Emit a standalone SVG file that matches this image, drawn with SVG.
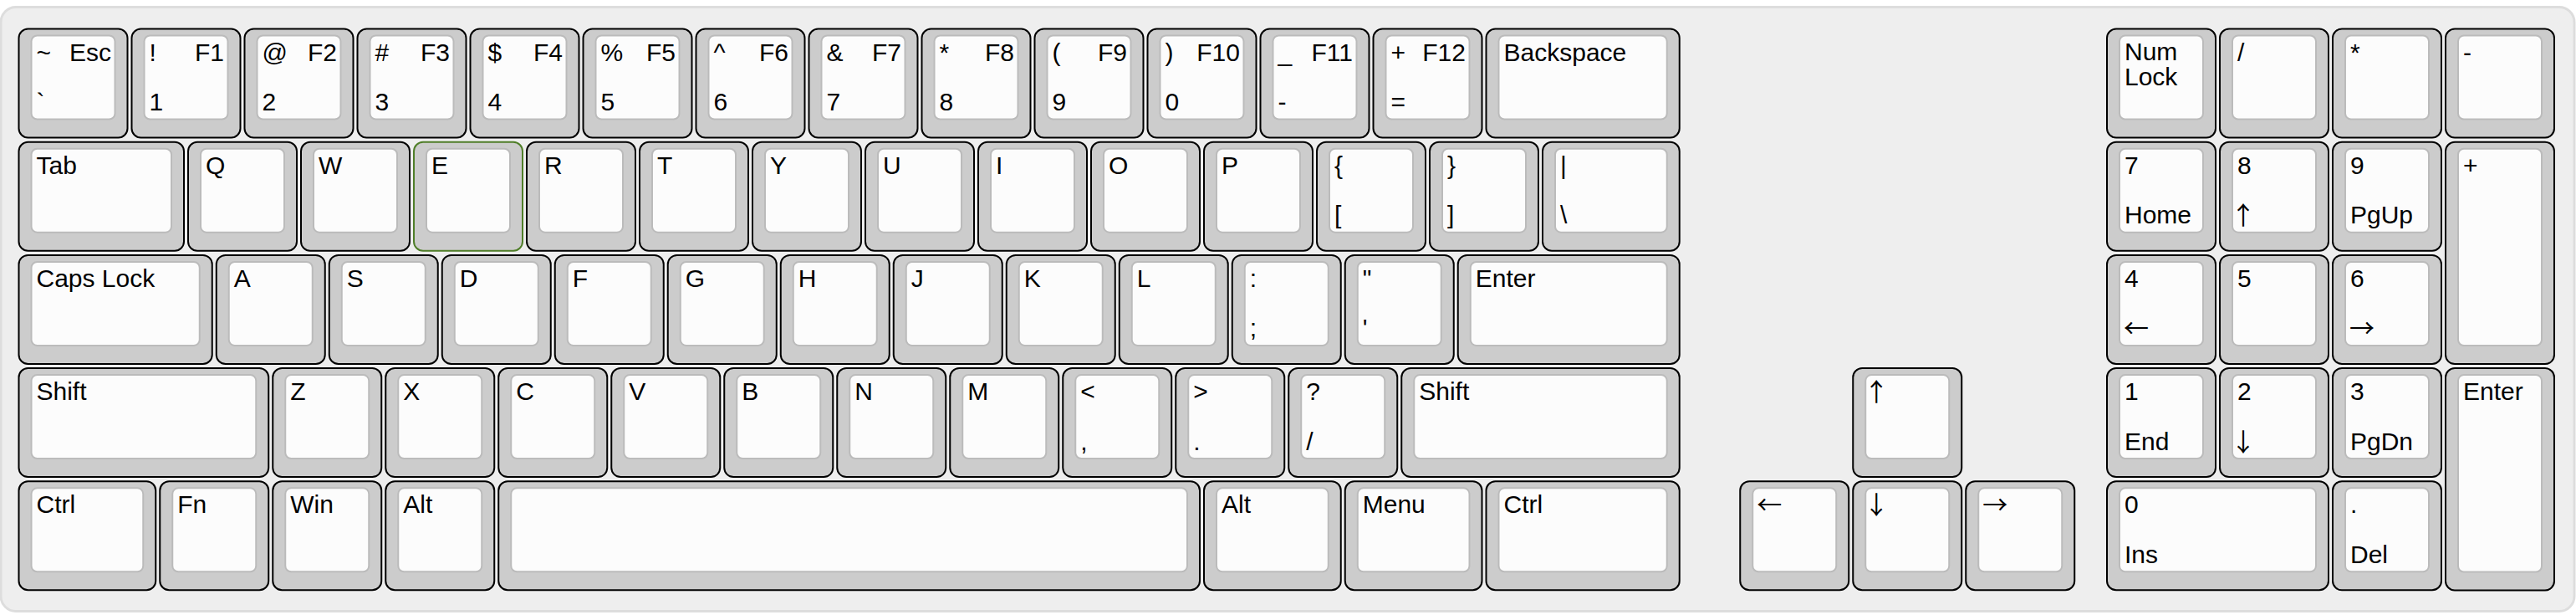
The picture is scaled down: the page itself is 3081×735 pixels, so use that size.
<svg xmlns="http://www.w3.org/2000/svg" width="3081" height="735" viewBox="0 0 3081 735">
<defs>
<style>
.o{fill:#cccccc;stroke:#000000;stroke-width:2}
.sel{stroke:#4f7e28}
.i{fill:#fcfcfc;stroke:#bbbbbb;stroke-width:2}
.t{font-family:"Liberation Sans",Arial,Helvetica,sans-serif;font-size:30px;fill:#000000}
.a{font-family:"Noto Sans CJK SC","DejaVu Sans",sans-serif;font-size:30px;fill:#000000}
.e{text-anchor:end}
</style>
</defs>
<rect x="1" y="8.5" width="3078" height="722" rx="18" fill="#eeeeee" stroke="#dddddd" stroke-width="3"/>
<g id="keys">
<!-- Row 0 -->
<g id="k-esc" transform="translate(21.5,33.5)"><rect class="o" x="1" y="1" width="130" height="130" rx="11"/><rect class="i" x="16" y="9" width="100" height="100" rx="7"/><text class="t" x="22" y="39">~</text><text class="t e" x="111.5" y="39">Esc</text><text class="t" x="22" y="98.5">`</text></g>
<g id="k-1" transform="translate(156.5,33.5)"><rect class="o" x="1" y="1" width="130" height="130" rx="11"/><rect class="i" x="16" y="9" width="100" height="100" rx="7"/><text class="t" x="22" y="39">!</text><text class="t e" x="111.5" y="39">F1</text><text class="t" x="22" y="98.5">1</text></g>
<g id="k-2" transform="translate(291.5,33.5)"><rect class="o" x="1" y="1" width="130" height="130" rx="11"/><rect class="i" x="16" y="9" width="100" height="100" rx="7"/><text class="t" x="22" y="39">@</text><text class="t e" x="111.5" y="39">F2</text><text class="t" x="22" y="98.5">2</text></g>
<g id="k-3" transform="translate(426.5,33.5)"><rect class="o" x="1" y="1" width="130" height="130" rx="11"/><rect class="i" x="16" y="9" width="100" height="100" rx="7"/><text class="t" x="22" y="39">#</text><text class="t e" x="111.5" y="39">F3</text><text class="t" x="22" y="98.5">3</text></g>
<g id="k-4" transform="translate(561.5,33.5)"><rect class="o" x="1" y="1" width="130" height="130" rx="11"/><rect class="i" x="16" y="9" width="100" height="100" rx="7"/><text class="t" x="22" y="39">$</text><text class="t e" x="111.5" y="39">F4</text><text class="t" x="22" y="98.5">4</text></g>
<g id="k-5" transform="translate(696.5,33.5)"><rect class="o" x="1" y="1" width="130" height="130" rx="11"/><rect class="i" x="16" y="9" width="100" height="100" rx="7"/><text class="t" x="22" y="39">%</text><text class="t e" x="111.5" y="39">F5</text><text class="t" x="22" y="98.5">5</text></g>
<g id="k-6" transform="translate(831.5,33.5)"><rect class="o" x="1" y="1" width="130" height="130" rx="11"/><rect class="i" x="16" y="9" width="100" height="100" rx="7"/><text class="t" x="22" y="39">^</text><text class="t e" x="111.5" y="39">F6</text><text class="t" x="22" y="98.5">6</text></g>
<g id="k-7" transform="translate(966.5,33.5)"><rect class="o" x="1" y="1" width="130" height="130" rx="11"/><rect class="i" x="16" y="9" width="100" height="100" rx="7"/><text class="t" x="22" y="39">&amp;</text><text class="t e" x="111.5" y="39">F7</text><text class="t" x="22" y="98.5">7</text></g>
<g id="k-8" transform="translate(1101.5,33.5)"><rect class="o" x="1" y="1" width="130" height="130" rx="11"/><rect class="i" x="16" y="9" width="100" height="100" rx="7"/><text class="t" x="22" y="39">*</text><text class="t e" x="111.5" y="39">F8</text><text class="t" x="22" y="98.5">8</text></g>
<g id="k-9" transform="translate(1236.5,33.5)"><rect class="o" x="1" y="1" width="130" height="130" rx="11"/><rect class="i" x="16" y="9" width="100" height="100" rx="7"/><text class="t" x="22" y="39">(</text><text class="t e" x="111.5" y="39">F9</text><text class="t" x="22" y="98.5">9</text></g>
<g id="k-0" transform="translate(1371.5,33.5)"><rect class="o" x="1" y="1" width="130" height="130" rx="11"/><rect class="i" x="16" y="9" width="100" height="100" rx="7"/><text class="t" x="22" y="39">)</text><text class="t e" x="111.5" y="39">F10</text><text class="t" x="22" y="98.5">0</text></g>
<g id="k-minus" transform="translate(1506.5,33.5)"><rect class="o" x="1" y="1" width="130" height="130" rx="11"/><rect class="i" x="16" y="9" width="100" height="100" rx="7"/><text class="t" x="22" y="39">_</text><text class="t e" x="111.5" y="39">F11</text><text class="t" x="22" y="98.5">-</text></g>
<g id="k-equal" transform="translate(1641.5,33.5)"><rect class="o" x="1" y="1" width="130" height="130" rx="11"/><rect class="i" x="16" y="9" width="100" height="100" rx="7"/><text class="t" x="22" y="39">+</text><text class="t e" x="111.5" y="39">F12</text><text class="t" x="22" y="98.5">=</text></g>
<g id="k-backspace" transform="translate(1776.5,33.5)"><rect class="o" x="1" y="1" width="231.25" height="130" rx="11"/><rect class="i" x="16" y="9" width="201.25" height="100" rx="7"/><text class="t" x="22" y="39">Backspace</text></g>
<!-- Row 1 -->
<g id="k-tab" transform="translate(21.5,168.7)"><rect class="o" x="1" y="1" width="197.5" height="130" rx="11"/><rect class="i" x="16" y="9" width="167.5" height="100" rx="7"/><text class="t" x="22" y="39">Tab</text></g>
<g id="k-q" transform="translate(224,168.7)"><rect class="o" x="1" y="1" width="130" height="130" rx="11"/><rect class="i" x="16" y="9" width="100" height="100" rx="7"/><text class="t" x="22" y="39">Q</text></g>
<g id="k-w" transform="translate(359,168.7)"><rect class="o" x="1" y="1" width="130" height="130" rx="11"/><rect class="i" x="16" y="9" width="100" height="100" rx="7"/><text class="t" x="22" y="39">W</text></g>
<g id="k-e" transform="translate(494,168.7)"><rect class="o sel" x="1" y="1" width="130" height="130" rx="11"/><rect class="i" x="16" y="9" width="100" height="100" rx="7"/><text class="t" x="22" y="39">E</text></g>
<g id="k-r" transform="translate(629,168.7)"><rect class="o" x="1" y="1" width="130" height="130" rx="11"/><rect class="i" x="16" y="9" width="100" height="100" rx="7"/><text class="t" x="22" y="39">R</text></g>
<g id="k-t" transform="translate(764,168.7)"><rect class="o" x="1" y="1" width="130" height="130" rx="11"/><rect class="i" x="16" y="9" width="100" height="100" rx="7"/><text class="t" x="22" y="39">T</text></g>
<g id="k-y" transform="translate(899,168.7)"><rect class="o" x="1" y="1" width="130" height="130" rx="11"/><rect class="i" x="16" y="9" width="100" height="100" rx="7"/><text class="t" x="22" y="39">Y</text></g>
<g id="k-u" transform="translate(1034,168.7)"><rect class="o" x="1" y="1" width="130" height="130" rx="11"/><rect class="i" x="16" y="9" width="100" height="100" rx="7"/><text class="t" x="22" y="39">U</text></g>
<g id="k-i" transform="translate(1169,168.7)"><rect class="o" x="1" y="1" width="130" height="130" rx="11"/><rect class="i" x="16" y="9" width="100" height="100" rx="7"/><text class="t" x="22" y="39">I</text></g>
<g id="k-o" transform="translate(1304,168.7)"><rect class="o" x="1" y="1" width="130" height="130" rx="11"/><rect class="i" x="16" y="9" width="100" height="100" rx="7"/><text class="t" x="22" y="39">O</text></g>
<g id="k-p" transform="translate(1439,168.7)"><rect class="o" x="1" y="1" width="130" height="130" rx="11"/><rect class="i" x="16" y="9" width="100" height="100" rx="7"/><text class="t" x="22" y="39">P</text></g>
<g id="k-lbracket" transform="translate(1574,168.7)"><rect class="o" x="1" y="1" width="130" height="130" rx="11"/><rect class="i" x="16" y="9" width="100" height="100" rx="7"/><text class="t" x="22" y="39">{</text><text class="t" x="22" y="98.5">[</text></g>
<g id="k-rbracket" transform="translate(1709,168.7)"><rect class="o" x="1" y="1" width="130" height="130" rx="11"/><rect class="i" x="16" y="9" width="100" height="100" rx="7"/><text class="t" x="22" y="39">}</text><text class="t" x="22" y="98.5">]</text></g>
<g id="k-backslash" transform="translate(1844,168.7)"><rect class="o" x="1" y="1" width="163.75" height="130" rx="11"/><rect class="i" x="16" y="9" width="133.75" height="100" rx="7"/><text class="t" x="22" y="39">|</text><text class="t" x="22" y="98.5">\</text></g>
<!-- Row 2 -->
<g id="k-caps" transform="translate(21.5,303.9)"><rect class="o" x="1" y="1" width="231.25" height="130" rx="11"/><rect class="i" x="16" y="9" width="201.25" height="100" rx="7"/><text class="t" x="22" y="39">Caps Lock</text></g>
<g id="k-a" transform="translate(257.75,303.9)"><rect class="o" x="1" y="1" width="130" height="130" rx="11"/><rect class="i" x="16" y="9" width="100" height="100" rx="7"/><text class="t" x="22" y="39">A</text></g>
<g id="k-s" transform="translate(392.75,303.9)"><rect class="o" x="1" y="1" width="130" height="130" rx="11"/><rect class="i" x="16" y="9" width="100" height="100" rx="7"/><text class="t" x="22" y="39">S</text></g>
<g id="k-d" transform="translate(527.75,303.9)"><rect class="o" x="1" y="1" width="130" height="130" rx="11"/><rect class="i" x="16" y="9" width="100" height="100" rx="7"/><text class="t" x="22" y="39">D</text></g>
<g id="k-f" transform="translate(662.75,303.9)"><rect class="o" x="1" y="1" width="130" height="130" rx="11"/><rect class="i" x="16" y="9" width="100" height="100" rx="7"/><text class="t" x="22" y="39">F</text></g>
<g id="k-g" transform="translate(797.75,303.9)"><rect class="o" x="1" y="1" width="130" height="130" rx="11"/><rect class="i" x="16" y="9" width="100" height="100" rx="7"/><text class="t" x="22" y="39">G</text></g>
<g id="k-h" transform="translate(932.75,303.9)"><rect class="o" x="1" y="1" width="130" height="130" rx="11"/><rect class="i" x="16" y="9" width="100" height="100" rx="7"/><text class="t" x="22" y="39">H</text></g>
<g id="k-j" transform="translate(1067.75,303.9)"><rect class="o" x="1" y="1" width="130" height="130" rx="11"/><rect class="i" x="16" y="9" width="100" height="100" rx="7"/><text class="t" x="22" y="39">J</text></g>
<g id="k-k" transform="translate(1202.75,303.9)"><rect class="o" x="1" y="1" width="130" height="130" rx="11"/><rect class="i" x="16" y="9" width="100" height="100" rx="7"/><text class="t" x="22" y="39">K</text></g>
<g id="k-l" transform="translate(1337.75,303.9)"><rect class="o" x="1" y="1" width="130" height="130" rx="11"/><rect class="i" x="16" y="9" width="100" height="100" rx="7"/><text class="t" x="22" y="39">L</text></g>
<g id="k-semicolon" transform="translate(1472.75,303.9)"><rect class="o" x="1" y="1" width="130" height="130" rx="11"/><rect class="i" x="16" y="9" width="100" height="100" rx="7"/><text class="t" x="22" y="39">:</text><text class="t" x="22" y="98.5">;</text></g>
<g id="k-quote" transform="translate(1607.75,303.9)"><rect class="o" x="1" y="1" width="130" height="130" rx="11"/><rect class="i" x="16" y="9" width="100" height="100" rx="7"/><text class="t" x="22" y="39">"</text><text class="t" x="22" y="98.5">'</text></g>
<g id="k-enter" transform="translate(1742.75,303.9)"><rect class="o" x="1" y="1" width="265" height="130" rx="11"/><rect class="i" x="16" y="9" width="235" height="100" rx="7"/><text class="t" x="22" y="39">Enter</text></g>
<!-- Row 3 -->
<g id="k-lshift" transform="translate(21.5,439.1)"><rect class="o" x="1" y="1" width="298.75" height="130" rx="11"/><rect class="i" x="16" y="9" width="268.75" height="100" rx="7"/><text class="t" x="22" y="39">Shift</text></g>
<g id="k-z" transform="translate(325.25,439.1)"><rect class="o" x="1" y="1" width="130" height="130" rx="11"/><rect class="i" x="16" y="9" width="100" height="100" rx="7"/><text class="t" x="22" y="39">Z</text></g>
<g id="k-x" transform="translate(460.25,439.1)"><rect class="o" x="1" y="1" width="130" height="130" rx="11"/><rect class="i" x="16" y="9" width="100" height="100" rx="7"/><text class="t" x="22" y="39">X</text></g>
<g id="k-c" transform="translate(595.25,439.1)"><rect class="o" x="1" y="1" width="130" height="130" rx="11"/><rect class="i" x="16" y="9" width="100" height="100" rx="7"/><text class="t" x="22" y="39">C</text></g>
<g id="k-v" transform="translate(730.25,439.1)"><rect class="o" x="1" y="1" width="130" height="130" rx="11"/><rect class="i" x="16" y="9" width="100" height="100" rx="7"/><text class="t" x="22" y="39">V</text></g>
<g id="k-b" transform="translate(865.25,439.1)"><rect class="o" x="1" y="1" width="130" height="130" rx="11"/><rect class="i" x="16" y="9" width="100" height="100" rx="7"/><text class="t" x="22" y="39">B</text></g>
<g id="k-n" transform="translate(1000.25,439.1)"><rect class="o" x="1" y="1" width="130" height="130" rx="11"/><rect class="i" x="16" y="9" width="100" height="100" rx="7"/><text class="t" x="22" y="39">N</text></g>
<g id="k-m" transform="translate(1135.25,439.1)"><rect class="o" x="1" y="1" width="130" height="130" rx="11"/><rect class="i" x="16" y="9" width="100" height="100" rx="7"/><text class="t" x="22" y="39">M</text></g>
<g id="k-comma" transform="translate(1270.25,439.1)"><rect class="o" x="1" y="1" width="130" height="130" rx="11"/><rect class="i" x="16" y="9" width="100" height="100" rx="7"/><text class="t" x="22" y="39">&lt;</text><text class="t" x="22" y="98.5">,</text></g>
<g id="k-period" transform="translate(1405.25,439.1)"><rect class="o" x="1" y="1" width="130" height="130" rx="11"/><rect class="i" x="16" y="9" width="100" height="100" rx="7"/><text class="t" x="22" y="39">&gt;</text><text class="t" x="22" y="98.5">.</text></g>
<g id="k-slash" transform="translate(1540.25,439.1)"><rect class="o" x="1" y="1" width="130" height="130" rx="11"/><rect class="i" x="16" y="9" width="100" height="100" rx="7"/><text class="t" x="22" y="39">?</text><text class="t" x="22" y="98.5">/</text></g>
<g id="k-rshift" transform="translate(1675.25,439.1)"><rect class="o" x="1" y="1" width="332.5" height="130" rx="11"/><rect class="i" x="16" y="9" width="302.5" height="100" rx="7"/><text class="t" x="22" y="39">Shift</text></g>
<!-- Row 4 -->
<g id="k-lctrl" transform="translate(21.5,574.3)"><rect class="o" x="1" y="1" width="163.75" height="130" rx="11"/><rect class="i" x="16" y="9" width="133.75" height="100" rx="7"/><text class="t" x="22" y="39">Ctrl</text></g>
<g id="k-fn" transform="translate(190.25,574.3)"><rect class="o" x="1" y="1" width="130" height="130" rx="11"/><rect class="i" x="16" y="9" width="100" height="100" rx="7"/><text class="t" x="22" y="39">Fn</text></g>
<g id="k-win" transform="translate(325.25,574.3)"><rect class="o" x="1" y="1" width="130" height="130" rx="11"/><rect class="i" x="16" y="9" width="100" height="100" rx="7"/><text class="t" x="22" y="39">Win</text></g>
<g id="k-lalt" transform="translate(460.25,574.3)"><rect class="o" x="1" y="1" width="130" height="130" rx="11"/><rect class="i" x="16" y="9" width="100" height="100" rx="7"/><text class="t" x="22" y="39">Alt</text></g>
<g id="k-space" transform="translate(595.25,574.3)"><rect class="o" x="1" y="1" width="838.75" height="130" rx="11"/><rect class="i" x="16" y="9" width="808.75" height="100" rx="7"/></g>
<g id="k-ralt" transform="translate(1439,574.3)"><rect class="o" x="1" y="1" width="163.75" height="130" rx="11"/><rect class="i" x="16" y="9" width="133.75" height="100" rx="7"/><text class="t" x="22" y="39">Alt</text></g>
<g id="k-menu" transform="translate(1607.75,574.3)"><rect class="o" x="1" y="1" width="163.75" height="130" rx="11"/><rect class="i" x="16" y="9" width="133.75" height="100" rx="7"/><text class="t" x="22" y="39">Menu</text></g>
<g id="k-rctrl" transform="translate(1776.5,574.3)"><rect class="o" x="1" y="1" width="231.25" height="130" rx="11"/><rect class="i" x="16" y="9" width="201.25" height="100" rx="7"/><text class="t" x="22" y="39">Ctrl</text></g>
<!-- Arrows -->
<g id="k-up" transform="translate(2215.25,439.1)"><rect class="o" x="1" y="1" width="130" height="130" rx="11"/><rect class="i" x="16" y="9" width="100" height="100" rx="7"/><text class="a" x="14" y="40">↑</text></g>
<g id="k-left" transform="translate(2080.25,574.3)"><rect class="o" x="1" y="1" width="130" height="130" rx="11"/><rect class="i" x="16" y="9" width="100" height="100" rx="7"/><text class="a" x="21" y="40">←</text></g>
<g id="k-down" transform="translate(2215.25,574.3)"><rect class="o" x="1" y="1" width="130" height="130" rx="11"/><rect class="i" x="16" y="9" width="100" height="100" rx="7"/><text class="a" x="14" y="40">↓</text></g>
<g id="k-right" transform="translate(2350.25,574.3)"><rect class="o" x="1" y="1" width="130" height="130" rx="11"/><rect class="i" x="16" y="9" width="100" height="100" rx="7"/><text class="a" x="21" y="40">→</text></g>
<!-- Numpad -->
<g id="k-numlock" transform="translate(2519,33.5)"><rect class="o" x="1" y="1" width="130" height="130" rx="11"/><rect class="i" x="16" y="9" width="100" height="100" rx="7"/><text class="t" x="22" y="38">Num</text><text class="t" x="22" y="68">Lock</text></g>
<g id="k-kpslash" transform="translate(2654,33.5)"><rect class="o" x="1" y="1" width="130" height="130" rx="11"/><rect class="i" x="16" y="9" width="100" height="100" rx="7"/><text class="t" x="22" y="39">/</text></g>
<g id="k-kpstar" transform="translate(2789,33.5)"><rect class="o" x="1" y="1" width="130" height="130" rx="11"/><rect class="i" x="16" y="9" width="100" height="100" rx="7"/><text class="t" x="22" y="39">*</text></g>
<g id="k-kpminus" transform="translate(2924,33.5)"><rect class="o" x="1" y="1" width="130" height="130" rx="11"/><rect class="i" x="16" y="9" width="100" height="100" rx="7"/><text class="t" x="22" y="39">-</text></g>
<g id="k-kp7" transform="translate(2519,168.7)"><rect class="o" x="1" y="1" width="130" height="130" rx="11"/><rect class="i" x="16" y="9" width="100" height="100" rx="7"/><text class="t" x="22" y="39">7</text><text class="t" x="22" y="98.5">Home</text></g>
<g id="k-kp8" transform="translate(2654,168.7)"><rect class="o" x="1" y="1" width="130" height="130" rx="11"/><rect class="i" x="16" y="9" width="100" height="100" rx="7"/><text class="t" x="22" y="39">8</text><text class="a" x="14" y="99.5">↑</text></g>
<g id="k-kp9" transform="translate(2789,168.7)"><rect class="o" x="1" y="1" width="130" height="130" rx="11"/><rect class="i" x="16" y="9" width="100" height="100" rx="7"/><text class="t" x="22" y="39">9</text><text class="t" x="22" y="98.5">PgUp</text></g>
<g id="k-kpplus" transform="translate(2924,168.7)"><rect class="o" x="1" y="1" width="130" height="265.4" rx="11"/><rect class="i" x="16" y="9" width="100" height="235.4" rx="7"/><text class="t" x="22" y="39">+</text></g>
<g id="k-kp4" transform="translate(2519,303.9)"><rect class="o" x="1" y="1" width="130" height="130" rx="11"/><rect class="i" x="16" y="9" width="100" height="100" rx="7"/><text class="t" x="22" y="39">4</text><text class="a" x="21" y="99.5">←</text></g>
<g id="k-kp5" transform="translate(2654,303.9)"><rect class="o" x="1" y="1" width="130" height="130" rx="11"/><rect class="i" x="16" y="9" width="100" height="100" rx="7"/><text class="t" x="22" y="39">5</text></g>
<g id="k-kp6" transform="translate(2789,303.9)"><rect class="o" x="1" y="1" width="130" height="130" rx="11"/><rect class="i" x="16" y="9" width="100" height="100" rx="7"/><text class="t" x="22" y="39">6</text><text class="a" x="21" y="99.5">→</text></g>
<g id="k-kp1" transform="translate(2519,439.1)"><rect class="o" x="1" y="1" width="130" height="130" rx="11"/><rect class="i" x="16" y="9" width="100" height="100" rx="7"/><text class="t" x="22" y="39">1</text><text class="t" x="22" y="98.5">End</text></g>
<g id="k-kp2" transform="translate(2654,439.1)"><rect class="o" x="1" y="1" width="130" height="130" rx="11"/><rect class="i" x="16" y="9" width="100" height="100" rx="7"/><text class="t" x="22" y="39">2</text><text class="a" x="14" y="99.5">↓</text></g>
<g id="k-kp3" transform="translate(2789,439.1)"><rect class="o" x="1" y="1" width="130" height="130" rx="11"/><rect class="i" x="16" y="9" width="100" height="100" rx="7"/><text class="t" x="22" y="39">3</text><text class="t" x="22" y="98.5">PgDn</text></g>
<g id="k-kpenter" transform="translate(2924,439.1)"><rect class="o" x="1" y="1" width="130" height="265.4" rx="11"/><rect class="i" x="16" y="9" width="100" height="235.4" rx="7"/><text class="t" x="22" y="39">Enter</text></g>
<g id="k-kp0" transform="translate(2519,574.3)"><rect class="o" x="1" y="1" width="265" height="130" rx="11"/><rect class="i" x="16" y="9" width="235" height="100" rx="7"/><text class="t" x="22" y="39">0</text><text class="t" x="22" y="98.5">Ins</text></g>
<g id="k-kpdot" transform="translate(2789,574.3)"><rect class="o" x="1" y="1" width="130" height="130" rx="11"/><rect class="i" x="16" y="9" width="100" height="100" rx="7"/><text class="t" x="22" y="39">.</text><text class="t" x="22" y="98.5">Del</text></g>
</g>
</svg>
